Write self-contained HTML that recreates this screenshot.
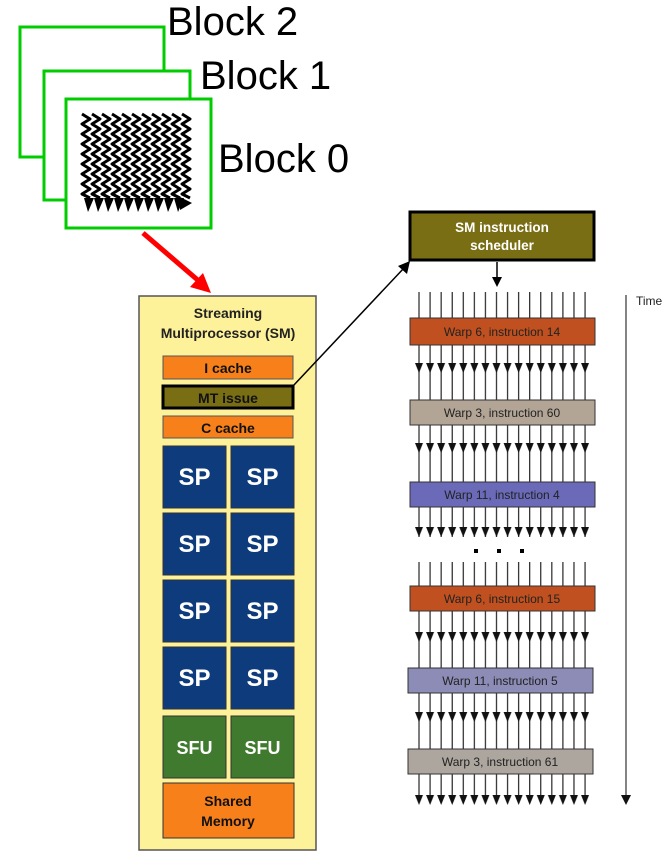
<!DOCTYPE html>
<html><head><meta charset="utf-8"><style>
html,body{margin:0;padding:0;background:#fff;}
svg{display:block;font-family:"Liberation Sans",sans-serif;}
</style></head><body>
<svg width="667" height="857" viewBox="0 0 667 857" xmlns="http://www.w3.org/2000/svg">
<defs>
<pattern id="vl" patternUnits="userSpaceOnUse" x="413.5" y="0" width="11.07" height="10">
<line x1="5.5" y1="0" x2="5.5" y2="10" stroke="#111" stroke-width="1.1"/>
</pattern>
<pattern id="ah" patternUnits="userSpaceOnUse" x="413.5" y="0" width="11.07" height="10">
<polygon points="1.5,0 9.5,0 5.5,10" fill="#111"/>
</pattern>
<path id="zz" d="M0,0 l8,5 l-8,5 l8,5 l-8,5 l8,5 l-8,5 l8,5 l-8,5 l8,5 l-8,5 l8,5 l-8,5 l8,5 l-8,5 l8,5 l-8,5 l8,4" fill="none" stroke="#000" stroke-width="3" stroke-linejoin="round"/>
</defs>

<rect x="20" y="27" width="144" height="130" fill="#fff" stroke="#0c0" stroke-width="3"/>
<rect x="44" y="71" width="146" height="129" fill="#fff" stroke="#0c0" stroke-width="3"/>
<rect x="66" y="99" width="145" height="129" fill="#fff" stroke="#0c0" stroke-width="3"/>
<text x="167" y="35" font-size="40">Block 2</text>
<text x="200" y="89" font-size="40">Block 1</text>
<text x="218" y="172" font-size="40">Block 0</text>
<g>
<use href="#zz" x="82" y="114"/><use href="#zz" x="92" y="114"/><use href="#zz" x="102" y="114"/>
<use href="#zz" x="112" y="114"/><use href="#zz" x="122" y="114"/><use href="#zz" x="132" y="114"/>
<use href="#zz" x="142" y="114"/><use href="#zz" x="152" y="114"/><use href="#zz" x="162" y="114"/>
<use href="#zz" x="172" y="114"/><use href="#zz" x="182" y="114"/>
</g>
<g fill="#000">
<polygon points="84,198 94,198 88,212"/><polygon points="94,198 104,198 98,212"/><polygon points="104,198 114,198 108,212"/>
<polygon points="114,198 124,198 118,212"/><polygon points="124,198 134,198 128,212"/><polygon points="134,198 144,198 138,212"/>
<polygon points="144,198 154,198 148,212"/><polygon points="154,198 164,198 158,212"/><polygon points="164,198 174,198 168,212"/>
<polygon points="174,198 184,198 178,212"/><polygon points="180,197 192,203 180,210"/>
</g>

<line x1="143" y1="233" x2="200" y2="282" stroke="#f00" stroke-width="5"/>
<polygon points="211,293 190,287 203,273" fill="#f00"/>

<rect x="139" y="296" width="177" height="554" fill="#fdf29a" stroke="#555" stroke-width="1.5"/>
<text x="228" y="318" font-size="14" font-weight="bold" text-anchor="middle" fill="#222">Streaming</text>
<text x="228" y="338" font-size="14" font-weight="bold" text-anchor="middle" fill="#222">Multiprocessor (SM)</text>
<rect x="163" y="356" width="130" height="23" fill="#f7801b" stroke="#555"/>
<text x="228" y="373" font-size="14" font-weight="bold" text-anchor="middle" fill="#111">I cache</text>
<rect x="163" y="386" width="130" height="22" fill="#7a6e14" stroke="#000" stroke-width="3"/>
<text x="228" y="403" font-size="14" font-weight="bold" text-anchor="middle" fill="#111">MT issue</text>
<rect x="163" y="416" width="130" height="22" fill="#f7801b" stroke="#555"/>
<text x="228" y="433" font-size="14" font-weight="bold" text-anchor="middle" fill="#111">C cache</text>
<g fill="#0e3b7c" stroke="#333">
<rect x="163" y="446" width="63" height="62"/><rect x="231" y="446" width="63" height="62"/>
<rect x="163" y="513" width="63" height="62"/><rect x="231" y="513" width="63" height="62"/>
<rect x="163" y="580" width="63" height="62"/><rect x="231" y="580" width="63" height="62"/>
<rect x="163" y="647" width="63" height="62"/><rect x="231" y="647" width="63" height="62"/>
</g>
<g fill="#fff" font-size="24" font-weight="bold" text-anchor="middle">
<text x="194.5" y="485">SP</text><text x="262.5" y="485">SP</text>
<text x="194.5" y="552">SP</text><text x="262.5" y="552">SP</text>
<text x="194.5" y="619">SP</text><text x="262.5" y="619">SP</text>
<text x="194.5" y="686">SP</text><text x="262.5" y="686">SP</text>
</g>
<rect x="163" y="716" width="63" height="62" fill="#3f7a2e" stroke="#333"/>
<rect x="231" y="716" width="63" height="62" fill="#3f7a2e" stroke="#333"/>
<text x="194.5" y="754" font-size="18" font-weight="bold" fill="#fff" text-anchor="middle">SFU</text>
<text x="262.5" y="754" font-size="18" font-weight="bold" fill="#fff" text-anchor="middle">SFU</text>
<rect x="163" y="783" width="131" height="55" fill="#f7801b" stroke="#333"/>
<text x="228" y="806" font-size="14" font-weight="bold" text-anchor="middle" fill="#111">Shared</text>
<text x="228" y="826" font-size="14" font-weight="bold" text-anchor="middle" fill="#111">Memory</text>

<line x1="293" y1="386" x2="404" y2="268" stroke="#000" stroke-width="1.5"/>
<polygon points="410,261 407,274 398,266" fill="#000"/>
<rect x="410" y="212" width="184" height="48" fill="#7a6e14" stroke="#000" stroke-width="3"/>
<text x="502" y="232" font-size="13.5" font-weight="bold" fill="#fff" text-anchor="middle">SM instruction</text>
<text x="502" y="250" font-size="13.5" font-weight="bold" fill="#fff" text-anchor="middle">scheduler</text>
<line x1="497" y1="262" x2="497" y2="278" stroke="#000" stroke-width="1.5"/>
<polygon points="492,277 502,277 497,287" fill="#000"/>

<rect x="413" y="292" width="176" height="26" fill="url(#vl)"/>
<rect x="413" y="345" width="176" height="55" fill="url(#vl)"/>
<rect x="413" y="425" width="176" height="57" fill="url(#vl)"/>
<rect x="413" y="507" width="176" height="30" fill="url(#vl)"/>
<rect x="413" y="562" width="176" height="24" fill="url(#vl)"/>
<rect x="413" y="611" width="176" height="57" fill="url(#vl)"/>
<rect x="413" y="693" width="176" height="56" fill="url(#vl)"/>
<rect x="413" y="774" width="176" height="28" fill="url(#vl)"/>
<g transform="translate(0,363)"><rect x="413" y="0" width="176" height="10" fill="url(#ah)"/></g>
<g transform="translate(0,443)"><rect x="413" y="0" width="176" height="10" fill="url(#ah)"/></g>
<g transform="translate(0,527)"><rect x="413" y="0" width="176" height="10" fill="url(#ah)"/></g>
<g transform="translate(0,632)"><rect x="413" y="0" width="176" height="10" fill="url(#ah)"/></g>
<g transform="translate(0,712)"><rect x="413" y="0" width="176" height="10" fill="url(#ah)"/></g>
<g transform="translate(0,795)"><rect x="413" y="0" width="176" height="10" fill="url(#ah)"/></g>
<rect x="474" y="549" width="4" height="4" fill="#000"/>
<rect x="497" y="549" width="4" height="4" fill="#000"/>
<rect x="520" y="549" width="4" height="4" fill="#000"/>

<g stroke="#333">
<rect x="410" y="318" width="185" height="27" fill="#c0501f"/>
<rect x="410" y="400" width="185" height="25" fill="#b2a596"/>
<rect x="410" y="482" width="185" height="25" fill="#6a6ab8"/>
<rect x="410" y="586" width="185" height="25" fill="#c0501f"/>
<rect x="408" y="668" width="185" height="25" fill="#8c8cb6"/>
<rect x="408" y="749" width="185" height="25" fill="#aca69e"/>
</g>
<g font-size="12" text-anchor="middle" fill="#222">
<text x="502" y="336">Warp 6, instruction 14</text>
<text x="502" y="417">Warp 3, instruction 60</text>
<text x="502" y="499">Warp 11, instruction 4</text>
<text x="502" y="603">Warp 6, instruction 15</text>
<text x="500" y="685">Warp 11, instruction 5</text>
<text x="500" y="766">Warp 3, instruction 61</text>
</g>

<line x1="626" y1="295" x2="626" y2="796" stroke="#333" stroke-width="1.2"/>
<polygon points="621,795 631,795 626,805" fill="#111"/>
<text x="636" y="305" font-size="12" fill="#222">Time</text>
</svg>
</body></html>
